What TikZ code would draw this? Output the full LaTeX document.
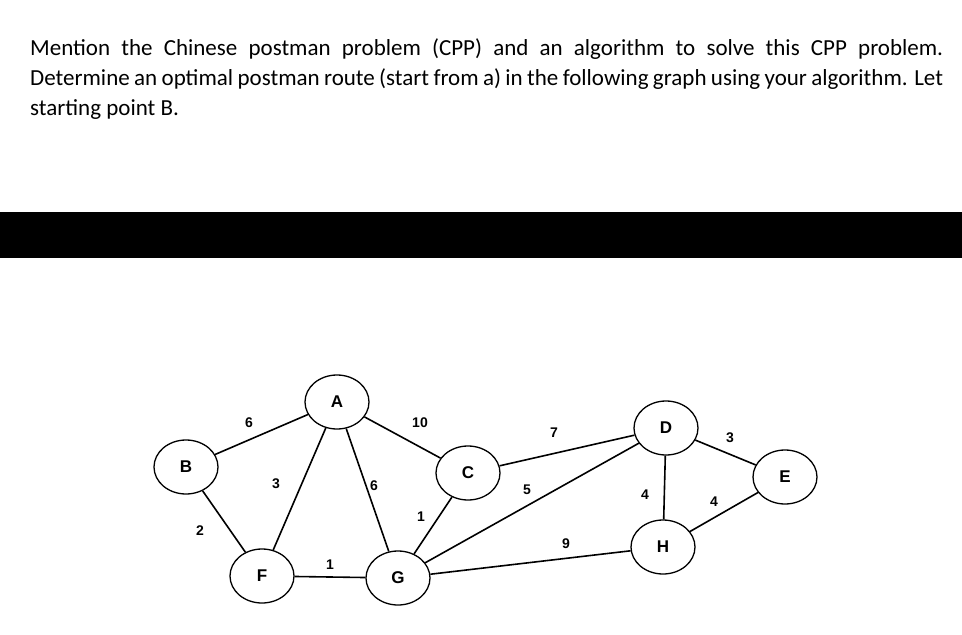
\documentclass[tikz,border=0pt]{standalone}
\usepackage{fontspec}
\setmainfont{Carlito}
\newfontfamily\lab{Liberation Sans}
\usetikzlibrary{shapes.geometric}
\begin{document}
\begin{tikzpicture}[x=1pt,y=-1pt,
  vtx/.style={ellipse,draw,line width=1.3pt,minimum width=64pt,minimum height=54pt,fill=white,font=\lab\bfseries\fontsize{17}{17}\selectfont,inner sep=0pt},
  ed/.style={line width=1.6pt},
  wt/.style={font=\lab\bfseries\fontsize{14}{14}\selectfont}]
\useasboundingbox (0,0) rectangle (962,635);
\node[anchor=north west,text width=913pt,align=justify,inner sep=0pt,font=\fontsize{23}{30}\selectfont] (txt) at (30,38)
{\hyphenpenalty=10000 Mention the Chinese postman problem (CPP) and an algorithm to solve this CPP problem.\linebreak Determine an optimal postman route (start from a) in the following graph using your algorithm. Let\linebreak starting point B.};
\fill (0,212) rectangle (962,258);
\node[vtx] (A) at (337,402) {A};
\node[vtx] (B) at (186,467) {B};
\node[vtx] (C) at (468,473) {C};
\node[vtx] (D) at (666,428) {D};
\node[vtx] (E) at (785,477) {E};
\node[vtx] (F) at (262,576) {F};
\node[vtx] (G) at (398,578) {G};
\node[vtx] (H) at (663,547) {H};
\draw[ed] (B) -- (A); \draw[ed] (B) -- (F); \draw[ed] (A) -- (F);
\draw[ed] (A) -- (G); \draw[ed] (A) -- (C); \draw[ed] (F) -- (G);
\draw[ed] (C) -- (G); \draw[ed] (C) -- (D); \draw[ed] (G) -- (D);
\draw[ed] (G) -- (H); \draw[ed] (D) -- (H); \draw[ed] (D) -- (E);
\draw[ed] (H) -- (E);
\node[wt] (w1) at (249,423) {6};
\node[wt] (w2) at (200,531) {2};
\node[wt] (w3) at (276,484) {3};
\node[wt] (w4) at (374,486) {6};
\node[wt] (w5) at (420,423) {10};
\node[wt] (w6) at (330,565) {1};
\node[wt] (w7) at (421,517) {1};
\node[wt] (w8) at (554,433) {7};
\node[wt] (w9) at (527,490) {5};
\node[wt] (w10) at (566,544) {9};
\node[wt] (w11) at (645,495) {4};
\node[wt] (w12) at (730,438) {3};
\node[wt] (w13) at (714,502) {4};
\end{tikzpicture}
\end{document}
